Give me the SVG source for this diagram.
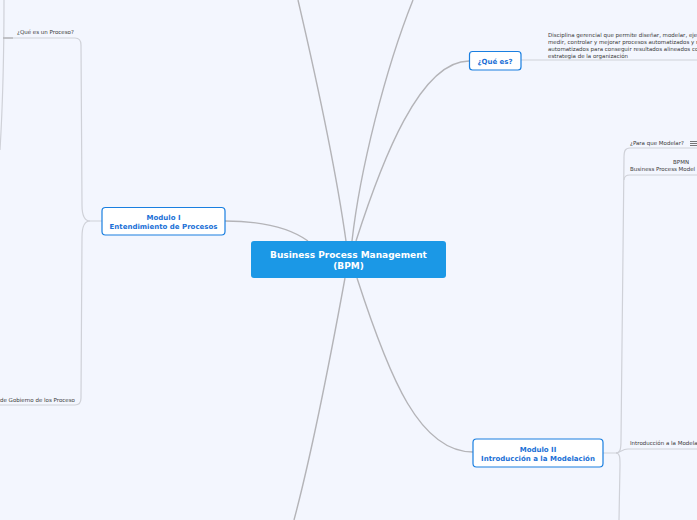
<svg xmlns="http://www.w3.org/2000/svg" width="697" height="520" viewBox="0 0 697 520">
<style>
.bg{fill:#f3f6fe}
.c{fill:none;stroke:#b4b4b8;stroke-width:1.4}
.s{fill:none;stroke:#cfd1d8;stroke-width:1.2}
.node{fill:#ffffff;stroke:#1a7fe0;stroke-width:1.2}
.root{fill:#1b98e6}
.t{font-family:"DejaVu Sans",Verdana,sans-serif;font-weight:bold;fill:#1a6fd6;font-size:7px;text-anchor:middle}
.rt{font-family:"DejaVu Sans",Verdana,sans-serif;font-weight:bold;fill:#ffffff;font-size:9px;text-anchor:middle}
.sub{font-family:"DejaVu Sans",Verdana,sans-serif;fill:#3a3a3a;font-size:5.5px}
</style>
<rect class="bg" x="0" y="0" width="697" height="520"/>
<g id="connectors">
<path class="c" d="M346,241 C336,170 312,60 298,0"/>
<path class="c" d="M352,241 C360,170 385,70 413,0"/>
<path class="c" d="M356,241 C382,160 420,61 469,61"/>
<path class="c" d="M308,241 C290,228 260,221 225,221"/>
<path class="c" d="M345,278 C330,360 310,460 294,520"/>
<path class="c" d="M357,278 C390,380 420,452 473,452"/>
<path class="s" d="M521,60 L697,60"/>
<path class="s" d="M102,221 L90,221 C84,221 82,215 82,205 L81,45 C81,40 79,38 75,38 L3,38"/>
<path class="s" d="M90,221 C84,221 82,227 82,237 L81,398 C81,403 79,405 75,405 L0,405"/>
<path class="s" d="M4,0 C4,40 3,100 0,150"/>
<path fill="none" stroke="#b4b4b8" stroke-width="1.4" d="M3,38 L13,38"/>
<path class="s" d="M603,453 L616,453 C620,453 621,450 621,440 L624,158 C624,151 625,148 630,148 L697,148"/>
<path class="s" d="M624,180 C624,176 626,175 630,175 L697,175"/>
<path class="s" d="M616,453 C620,453 622,449 628,449 L697,449"/>
<path class="s" d="M616,453 C620,453 620,458 620,465 L619,520"/>
</g>
<g id="root">
<rect class="root" x="251" y="241" width="195" height="37" rx="3"/>
<text class="rt" x="348.5" y="258">Business Process Management</text>
<text class="rt" x="348.5" y="269">(BPM)</text>
</g>
<g id="que-es">
<rect class="node" x="469.5" y="51.5" width="51.5" height="18.5" rx="3"/>
<text class="t" x="495" y="63.5">¿Qué es?</text>
</g>
<g id="que-es-desc">
<text class="sub" x="548" y="37">Disciplina gerencial que permite diseñar, modelar, ejecutar,</text>
<text class="sub" x="548" y="44">medir, controlar y mejorar procesos automatizados y no</text>
<text class="sub" x="548" y="51">automatizados para conseguir resultados alineados con la</text>
<text class="sub" x="548" y="58">estrategia de la organización</text>
</g>
<g id="modulo1">
<rect class="node" x="102" y="207.5" width="123" height="27.5" rx="3.5"/>
<text class="t" x="163.5" y="220">Modulo I</text>
<text class="t" x="163.5" y="229">Entendimiento de Procesos</text>
</g>
<g id="que-es-proceso">
<text class="sub" x="17" y="34">¿Qué es un Proceso?</text>
</g>
<g id="gobierno">
<text class="sub" x="0" y="402">de Gobierno de los Proceso</text>
</g>
<g id="modulo2">
<rect class="node" x="473" y="439" width="130" height="28" rx="3.5"/>
<text class="t" x="538" y="452">Modulo II</text>
<text class="t" x="538" y="461">Introducción a la Modelación</text>
</g>
<g id="para-que">
<text class="sub" x="630" y="145">¿Para que Modelar?</text>
<path fill="none" stroke="#555" stroke-width="0.8" d="M690,141.5 H697 M690,143.5 H697 M690,145.5 H697"/>
</g>
<g id="bpmn">
<text class="sub" x="689" y="164" text-anchor="end">BPMN</text>
<text class="sub" x="630" y="171">Business Process Model</text>
</g>
<g id="intro-modelacion">
<text class="sub" x="630" y="445">Introducción a la Modelación</text>
</g>
</svg>
